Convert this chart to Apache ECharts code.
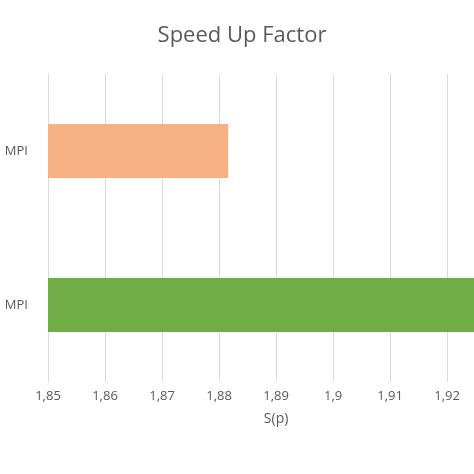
<!DOCTYPE html><html><head><meta charset="utf-8"><script src="https://cdn.jsdelivr.net/npm/echarts@6/dist/echarts.min.js"></script></head><body style="margin:0;overflow:hidden"><div id="c" style="width:520px;height:474px"></div><script>
const categories=['MPI','MPI'];
const values=[1.935,1.8816];
const colors=['#70AD47','#F4B183'];
const tickLabels={min:1.85,max:1.93,interval:0.01};
const chart=echarts.init(document.getElementById('c'));
chart.setOption({
title:{text:'Speed Up Factor',left:237,textAlign:'center',top:20,textStyle:{fontFamily:'Open Sans',fontWeight:'normal',fontSize:22,color:'#595959'}},
grid:{left:48,right:4,top:74,bottom:92},
xAxis:{type:'value',min:tickLabels.min,max:tickLabels.max,interval:tickLabels.interval,name:'S(p)',nameLocation:'middle',nameGap:30,nameTextStyle:{fontFamily:'Open Sans',fontSize:14,color:'#595959'},
axisLabel:{fontFamily:'Open Sans',fontSize:13,color:'#595959',formatter:v=>String(+v.toFixed(2)).replace('.',',')},
splitLine:{lineStyle:{color:'#D9D9D9'}},axisLine:{show:false},axisTick:{show:false}},
yAxis:{type:'category',data:categories,axisLine:{lineStyle:{color:'#D9D9D9'}},axisTick:{show:false},axisLabel:{fontFamily:'Open Sans',fontSize:13,color:'#595959',margin:20}},
series:[{type:'bar',barWidth:54,clip:true,data:values.map((v,i)=>({value:v,itemStyle:{color:colors[i]}}))}]
});
</script></body></html>
